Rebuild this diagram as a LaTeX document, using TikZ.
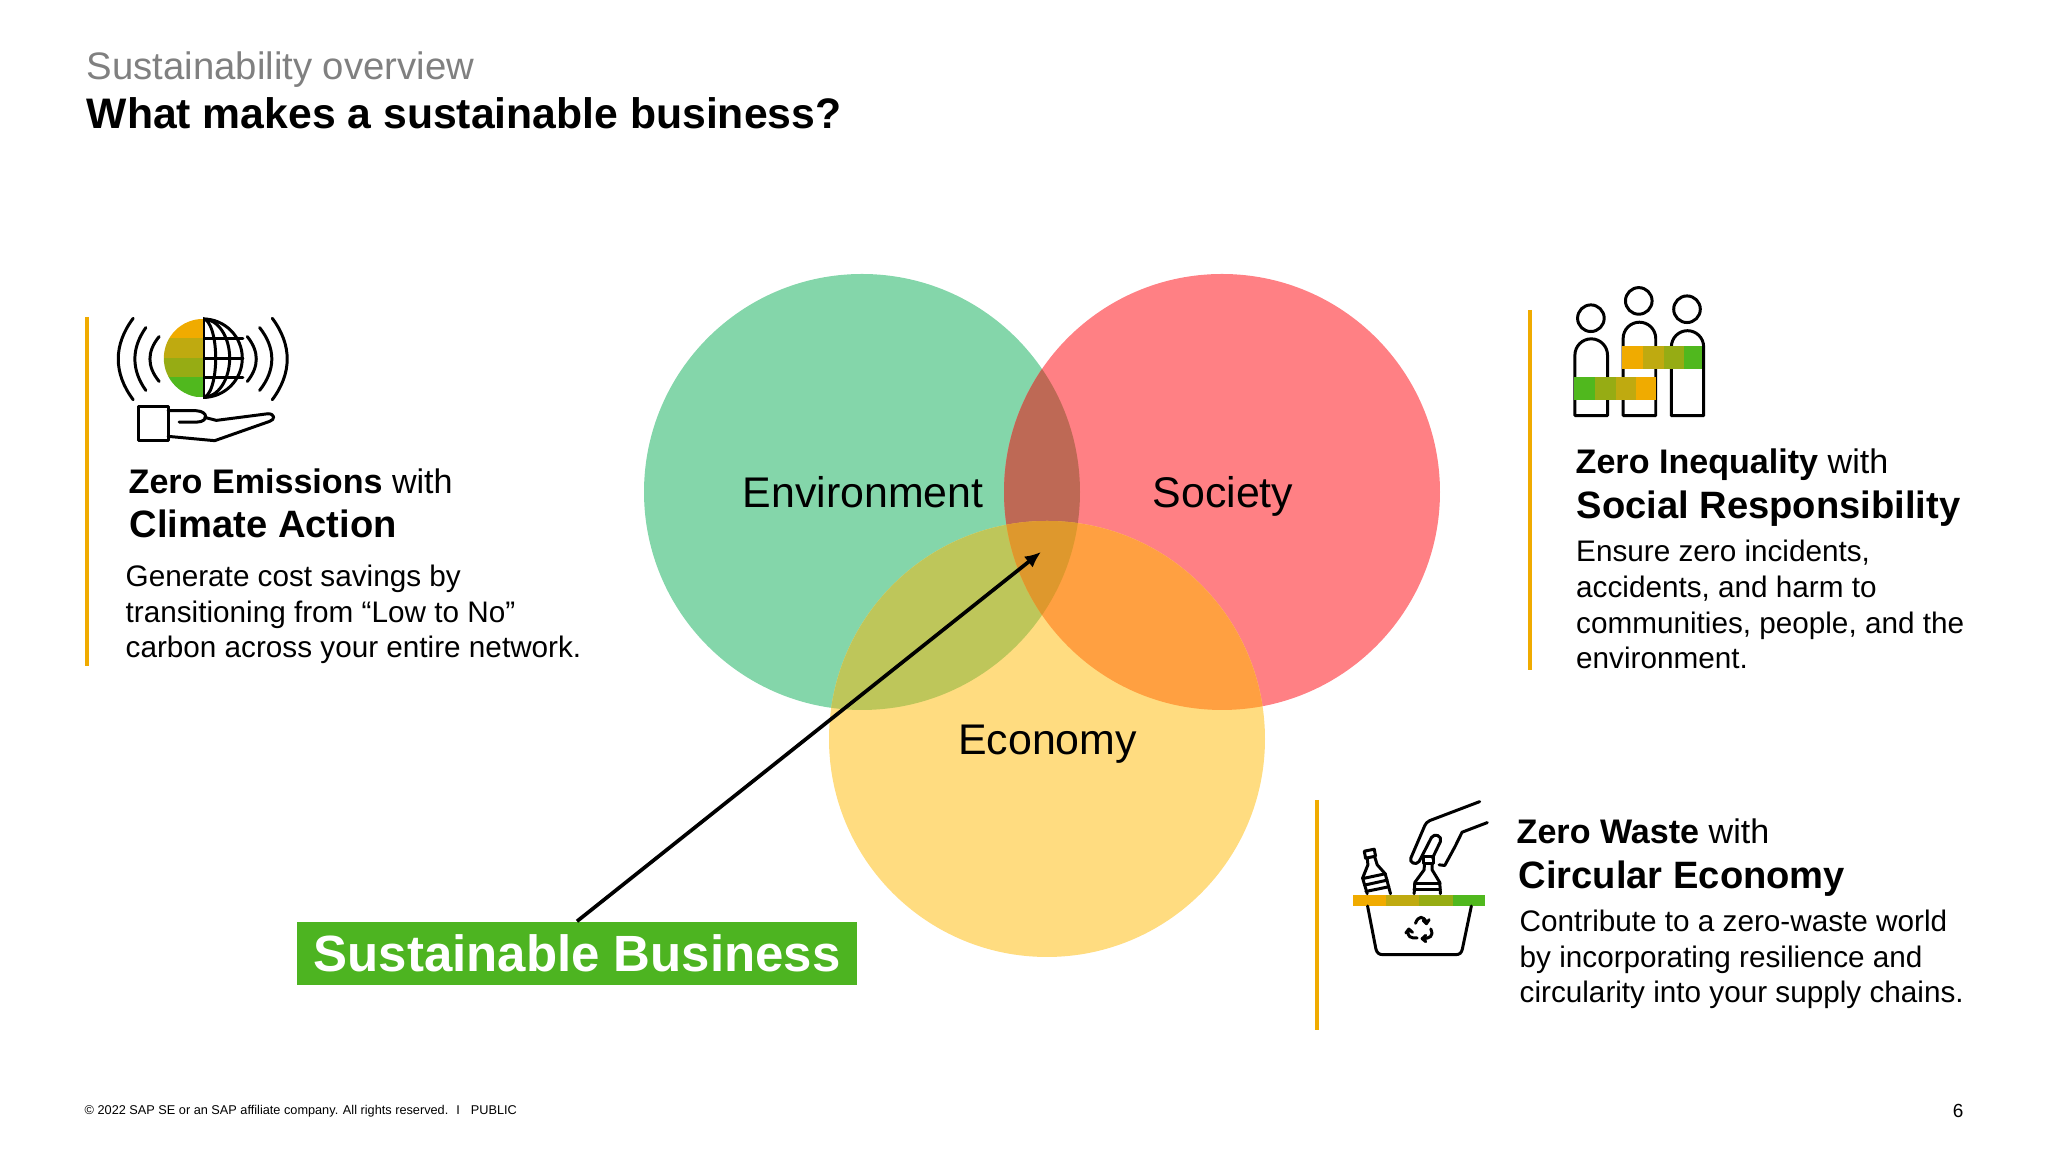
\documentclass[tikz,border=0pt]{standalone}
\usepackage{fontspec}
\usetikzlibrary{arrows.meta}
\setmainfont{Liberation Sans}
\definecolor{sapgold}{HTML}{F0AB00}
\definecolor{bandtwo}{HTML}{BFAA10}
\definecolor{bandthree}{HTML}{96AC14}
\definecolor{sapgreen}{HTML}{50B81E}
\definecolor{boxgreen}{HTML}{4DB421}
\definecolor{venngreen}{RGB}{132,214,170}
\definecolor{vennred}{RGB}{255,128,132}
\definecolor{vennyellow}{RGB}{255,220,128}
\definecolor{greenred}{RGB}{190,105,85}
\definecolor{greenyellow}{RGB}{190,198,90}
\definecolor{redyellow}{RGB}{255,160,65}
\definecolor{allthree}{RGB}{222,152,45}
\def\envcircle{(8.62, 6.6) circle (2.18)}
\def\soccircle{(12.22, 6.6) circle (2.18)}
\def\ecocircle{(10.47, 4.13) circle (2.18)}
\tikzset{
	bigword/.style={inner sep=0pt, anchor=base, font=\fontsize{12.2}{14}\selectfont},
	leadline/.style={inner sep=0pt, anchor=base west, font=\fontsize{9.7}{12}\selectfont},
	headline/.style={inner sep=0pt, anchor=base west, font=\fontsize{10.85}{13}\bfseries\selectfont},
	bodytext/.style={inner sep=0pt, anchor=base west, align=left, font=\fontsize{8.45}{10.2}\selectfont},
	accent/.style={line width=0.045cm, color=sapgold},
	icon/.style={line width=0.85pt, line cap=round, line join=round},
}

\begin{document}
\begin{tikzpicture}
	\useasboundingbox (0, 0) rectangle (20.48, 11.52);

	% heading
	\node[inner sep=0pt, anchor=base west, color=black!50, font=\fontsize{10.9}{13}\selectfont] (subtitle) at (0.86, 10.72) {Sustainability overview};
	\node[inner sep=0pt, anchor=base west, font=\fontsize{12.15}{14}\bfseries\selectfont] (title) at (0.86, 10.23) {What makes a sustainable business?};

	% venn
	\fill[venngreen] \envcircle;
	\fill[vennred] \soccircle;
	\fill[vennyellow] \ecocircle;
	\begin{scope}
		\clip \envcircle;
		\fill[greenred] \soccircle;
		\fill[greenyellow] \ecocircle;
	\end{scope}
	\begin{scope}
		\clip \soccircle;
		\fill[redyellow] \ecocircle;
		\clip \envcircle;
		\fill[allthree] \ecocircle;
	\end{scope}
	\node[bigword] (environment) at (8.63, 6.44) {Environment};
	\node[bigword] (society) at (12.23, 6.44) {Society};
	\node[bigword] (economy) at (10.475, 3.97) {Economy};

	% callout
	\node[inner sep=0pt, minimum width=5.6cm, minimum height=0.63cm, fill=boxgreen, text=white, font=\fontsize{14.5}{17}\bfseries\selectfont] (business) at (5.77, 1.985) {Sustainable Business};
	\coordinate (overlap) at (10.41, 6.0);
	\draw[line width=1.05pt, -{Latex[length=0.16cm, width=0.14cm]}] (business.north) -- (overlap);

	% bars
	\draw[accent] (0.87, 8.35) -- (0.87, 4.86);
	\draw[accent] (15.3, 8.42) -- (15.3, 4.82);
	\draw[accent] (13.17, 3.52) -- (13.17, 1.22);

	% left text
	\node[leadline] (emissions) at (1.28, 6.58) {\textbf{Zero Emissions} with};
	\node[headline] (climate) at (1.29, 6.14) {Climate Action};
	\node[bodytext] (climatetext) at (1.25, 4.94) {Generate cost savings by\\transitioning from “Low to No”\\carbon across your entire network.};

	% right text
	\node[leadline] (inequality) at (15.75, 6.78) {\textbf{Zero Inequality} with};
	\node[headline] (social) at (15.76, 6.33) {Social Responsibility};
	\node[bodytext] (socialtext) at (15.755, 4.83) {Ensure zero incidents,\\accidents, and harm to\\communities, people, and the\\environment.};

	% lower text
	\node[leadline] (waste) at (15.16, 3.08) {\textbf{Zero Waste} with};
	\node[headline] (circular) at (15.18, 2.63) {Circular Economy};
	\node[bodytext] (circulartext) at (15.19, 1.49) {Contribute to a zero-waste world\\by incorporating resilience and\\circularity into your supply chains.};

	% footer
	\node[inner sep=0pt, anchor=base west, font=\fontsize{3.62}{5}\selectfont] (copyright) at (0.84, 0.37) {© 2022 SAP SE or an SAP affiliate company. All rights reserved.\hspace{0.08cm}I\hspace{0.11cm}PUBLIC};
	\node[inner sep=0pt, anchor=base east, font=\fontsize{5.4}{6}\selectfont] (pagenumber) at (19.64, 0.34) {6};

	% globe icon
	\begin{scope}[shift={(0.8, 8.52)}, x=0.003333cm, y=-0.003333cm]
		\begin{scope}
			\clip (370, 175) circle (118);
			\fill[sapgold] (250, 57) rectangle (370, 115);
			\fill[bandtwo] (250, 115) rectangle (370, 175);
			\fill[bandthree] (250, 175) rectangle (370, 233);
			\fill[sapgreen] (250, 233) rectangle (370, 293);
		\end{scope}
		\begin{scope}
			\clip (370, 50) rectangle (500, 300);
			\draw[icon] (370, 175) circle (118);
			\draw[icon] (370, 175) ellipse (80 and 118);
			\draw[icon] (370, 175) ellipse (38 and 118);
			\draw[icon] (370, 115) -- (490, 115);
			\draw[icon] (370, 175) -- (490, 175);
			\draw[icon] (370, 233) -- (490, 233);
			\draw[icon] (370, 57) -- (370, 293);
		\end{scope}
		\draw[icon] (238, 110) .. controls (201, 155) and (201, 200) .. (238, 245);
		\draw[icon] (198, 83) .. controls (154, 145) and (154, 210) .. (198, 272);
		\draw[icon] (160, 55) .. controls (100, 135) and (100, 220) .. (160, 300);
		\draw[icon] (503, 110) .. controls (539, 155) and (539, 200) .. (503, 245);
		\draw[icon] (540, 83) .. controls (589, 145) and (589, 210) .. (540, 272);
		\draw[icon] (578, 55) .. controls (638, 135) and (638, 220) .. (578, 300);
		\draw[icon] (177, 320) rectangle (265, 423);
		\draw[icon] (265, 333) -- (350, 333) .. controls (388, 335) and (385, 367) .. (352, 367) -- (298, 367);
		\draw[icon] (375, 353) -- (410, 362) -- (565, 342) .. controls (587, 342) and (587, 360) .. (570, 365) -- (405, 423) -- (265, 410);
	\end{scope}

	% people icon
	\begin{scope}[shift={(15.4, 8.82)}, x=0.003333cm, y=-0.003333cm]
		\draw[icon] (153, 145) circle (40);
		\draw[icon] (297, 93) circle (40);
		\draw[icon] (442, 118) circle (40);
		\draw[icon] (105, 438) -- (105, 256) arc (180:360:49) -- (203, 438) -- cycle;
		\draw[icon] (250, 438) -- (250, 206) arc (180:360:49) -- (348, 438) -- cycle;
		\draw[icon] (395, 438) -- (395, 231) arc (180:360:48.5) -- (492, 438) -- cycle;
		\fill[sapgreen] (103, 323) rectangle (165, 390);
		\fill[bandthree] (165, 323) rectangle (228, 390);
		\fill[bandtwo] (228, 323) rectangle (288, 390);
		\fill[sapgold] (288, 323) rectangle (350, 390);
		\fill[sapgold] (248, 230) rectangle (311, 297);
		\fill[bandtwo] (311, 230) rectangle (372, 297);
		\fill[bandthree] (372, 230) rectangle (433, 297);
		\fill[sapgreen] (433, 230) rectangle (487, 297);
	\end{scope}

	% basket icon
	\begin{scope}[shift={(13.3, 3.62)}, x=0.003333cm, y=-0.003333cm]
		\fill[sapgold] (69, 315) rectangle (168, 349);
		\fill[bandtwo] (168, 315) rectangle (268, 349);
		\fill[bandthree] (268, 315) rectangle (370, 349);
		\fill[sapgreen] (370, 315) rectangle (467, 349);
		\draw[icon] (113, 349) -- (138, 478) .. controls (141, 490) and (148, 495) .. (158, 495) -- (378, 495) .. controls (390, 495) and (395, 490) .. (398, 478) -- (425, 349);
		% recycle mark
		\draw[icon] (257, 401) .. controls (265, 378) and (282, 376) .. (290, 400);
		\draw[icon] (280, 392) -- (290, 402) -- (298, 390);
		\draw[icon] (262, 445) .. controls (245, 446) and (228, 442) .. (237, 420);
		\draw[icon] (228, 430) -- (237, 418) -- (248, 428);
		\draw[icon] (303, 418) .. controls (313, 440) and (300, 446) .. (278, 447);
		\draw[icon] (288, 437) -- (277, 447) -- (288, 456);
		% bottle on the left
		\draw[icon] (103, 184) -- (133, 178) -- (137, 199) -- (107, 205) -- cycle;
		\draw[icon] (112, 205) -- (114, 225) -- (98, 265) -- (112, 312);
		\draw[icon] (134, 200) -- (142, 225) -- (166, 252) -- (182, 312);
		\draw[icon] (100, 266) -- (166, 252);
		\draw[icon] (104, 286) -- (172, 271);
		\draw[icon] (108, 305) -- (177, 291);
		% bottle in the hand
		\draw[icon] (280, 201) -- (311, 201) -- (311, 220) -- (280, 220) -- cycle;
		\draw[icon] (284, 220) -- (283, 240) -- (255, 278) -- (253, 312);
		\draw[icon] (307, 220) -- (307, 240) -- (330, 278) -- (332, 312);
		\draw[icon] (255, 280) -- (330, 280);
		\draw[icon] (253, 298) -- (332, 298);
		% hand
		\draw[icon] (450, 35) -- (300, 92) .. controls (292, 96) and (288, 100) .. (285, 107) -- (243, 205) .. controls (238, 218) and (258, 228) .. (268, 215) -- (305, 143) .. controls (314, 128) and (338, 138) .. (332, 155) -- (308, 205);
		\draw[icon] (328, 225) -- (345, 227) -- (376, 170) -- (397, 127) -- (473, 98);
	\end{scope}
\end{tikzpicture}
\end{document}
